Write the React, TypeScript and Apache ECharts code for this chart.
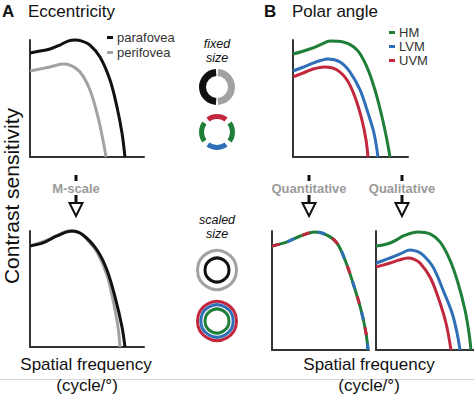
import React, { useEffect, useRef } from "react";
import * as echarts from "echarts";

// Curves: [spatial frequency (0-100 of axis), contrast sensitivity (0-100 of axis)]
const parafoveaFixed = [[0, 88.9], [8.8, 90.6], [17.5, 92.3], [26.3, 95.7], [33.3, 99.1], [39.5, 100], [45.6, 99.1], [52.6, 95.7], [61.4, 85.5], [70.2, 65.8], [76.3, 42.7], [80.7, 20.5], [83.3, 0]];
const perifoveaFixed = [[0, 73.5], [8.8, 75.2], [17.5, 76.9], [23.7, 78.6], [28.9, 79.5], [35.1, 78.6], [43.9, 72.6], [52.6, 57.3], [59.6, 34.2], [64.0, 14.5], [66.7, 0]];
const hmFixed = [[0, 88.0], [8, 90.2], [17.4, 93.2], [25, 96.5], [32.2, 99.1], [43.5, 98.3], [55.7, 91.5], [64.3, 76.9], [71.3, 57.3], [77.4, 34.2], [81.7, 14.5], [84.3, 0]];
const lvmFixed = [[0, 73.5], [8, 76.5], [17.4, 80.3], [24, 82.5], [30.4, 83.8], [40.9, 81.2], [49.6, 72.6], [58.3, 57.3], [65.2, 37.6], [70.4, 20.5], [73.9, 0]];
const uvmFixed = [[0, 68.4], [8, 71.5], [17.4, 75.2], [22.6, 76.4], [27.8, 76.9], [38.3, 74.4], [47.0, 65.8], [53.9, 51.3], [60.0, 31.6], [63.5, 14.5], [65.2, 0]];
const parafoveaScaled = [[0, 87.1], [11.4, 89.7], [23.7, 95.7], [36.8, 100], [46.5, 96.6], [58.8, 83.6], [67.5, 66.4], [74.6, 43.1], [80.7, 17.2], [83.3, 0]];
const perifoveaScaled = [[0, 87.1], [13.2, 91.4], [26.3, 97.4], [33.3, 100], [43.9, 98.3], [52.6, 89.7], [58.8, 81.9], [67.5, 62.1], [72.8, 40.5], [77.2, 17.2], [78.9, 0]];
const quantitativeCurve = [[0, 87.4], [15.5, 90.8], [29.2, 95.8], [44.3, 99.2], [56.7, 96.6], [67.0, 89.9], [75.3, 75.6], [83.5, 56.3], [91.8, 33.6], [96.9, 14.3], [99.0, 0]];
const hmQual = [[0, 87.4], [7, 88.3], [14.3, 89.9], [21, 92.5], [27.6, 95.8], [42.9, 99.2], [55.1, 97.5], [65.3, 90.8], [75.5, 75.6], [83.7, 56.3], [90.8, 33.6], [94.9, 14.3], [96.9, 0]];
const lvmQual = [[0, 73.1], [7, 75.0], [14.3, 77.3], [24, 80.5], [34.7, 84.0], [42, 82.8], [48.0, 79.8], [58.2, 69.7], [68.4, 50.4], [77.6, 31.1], [82.7, 14.3], [85.7, 0]];
const uvmQual = [[0, 69.7], [7, 71.3], [14.3, 73.1], [23, 75.5], [32.7, 77.3], [39, 76.2], [44.9, 73.1], [55.1, 61.3], [63.3, 44.5], [71.4, 22.7], [76.5, 0]];

const eccLegend = ["parafovea", "perifovea"];
const polarLegend = ["HM", "LVM", "UVM"];

const BLACK = "#111111";
const GRAY = "#a2a2a2";
const GREEN = "#1f7f38";
const BLUE = "#2f6fb8";
const RED = "#c1273d";
const FONT = "'Liberation Sans', Arial, sans-serif";

export default function App() {
  const ref = useRef<HTMLDivElement>(null);
  useEffect(() => {
    if (!ref.current) return;
    const chart = echarts.init(ref.current, null, { renderer: "svg" });
    const grids = [
      { left: 30, top: 40, width: 114, height: 117 },
      { left: 293, top: 40, width: 115, height: 117 },
      { left: 30, top: 231, width: 114, height: 116 },
      { left: 272, top: 231, width: 97, height: 119 },
      { left: 376, top: 231, width: 98, height: 119 },
    ];
    const axisLine = { show: true, onZero: false, lineStyle: { color: "#333", width: 2 } };
    const mkAxis = (i: number) => ({
      type: "value", gridIndex: i, min: 0, max: 100,
      axisLine, axisTick: { show: false }, axisLabel: { show: false }, splitLine: { show: false },
    });
    const line = (name: string, data: number[][], g: number, color: string, extra: any = {}) => ({
      type: "line", name, data, xAxisIndex: g, yAxisIndex: g,
      smooth: 0.35, showSymbol: false, clip: false,
      itemStyle: { color },
      lineStyle: { color, width: 3, cap: "butt", join: "round", ...extra },
      emphasis: { disabled: true },
    });
    const text = (t: string, x: number, y: number, size: number, opts: any = {}) => ({
      type: "text", x, y, silent: true,
      style: {
        text: t, fontSize: size, fontFamily: FONT, fill: opts.fill || "#111",
        fontWeight: opts.weight || "normal", fontStyle: opts.style || "normal",
        textAlign: opts.align || "left", align: opts.align || "left",
        textVerticalAlign: "middle", verticalAlign: "middle",
      },
      rotation: opts.rotation || 0,
    });
    const arrow = (x: number, label: string) => [
      { type: "rect", shape: { x: x - 1.5, y: 175, width: 3, height: 6 }, style: { fill: "#111" } },
      text(label, x, 188, 13, { fill: "#9b9b9b", weight: "bold", align: "center" }),
      { type: "rect", shape: { x: x - 1.5, y: 195, width: 3, height: 8 }, style: { fill: "#111" } },
      { type: "polygon", shape: { points: [[x - 6.5, 203], [x + 6.5, 203], [x, 216]] }, style: { fill: "#fff", stroke: "#111", lineWidth: 2, lineJoin: "miter" } },
    ];
    const sector = (cx: number, cy: number, r0: number, r: number, a0: number, a1: number, fill: string) => ({
      type: "sector", shape: { cx, cy, r0, r, startAngle: a0, endAngle: a1, clockwise: true }, style: { fill },
    });
    const arc = (cx: number, cy: number, r: number, a0: number, a1: number, stroke: string, lw: number) => ({
      type: "arc", shape: { cx, cy, r, startAngle: a0, endAngle: a1, clockwise: true }, style: { stroke, lineWidth: lw, fill: null },
    });
    const P = Math.PI;
    const g = 0.06;
    const g2 = 0.16;
    const graphics: any[] = [
      { type: "line", shape: { x1: 0, y1: 379.5, x2: 474, y2: 379.5 }, style: { stroke: "#d4d4d4", lineWidth: 1 } },
      text("A", 2, 11, 17, { weight: "bold" }),
      text("Eccentricity", 28, 11, 17),
      text("B", 264, 11, 17, { weight: "bold" }),
      text("Polar angle", 292, 11, 17),
      text("Contrast sensitivity", 11, 196, 21, { align: "center", rotation: Math.PI / 2 }),
      text("Spatial frequency", 86, 364, 17, { align: "center" }),
      text("(cycle/°)", 87, 385, 17, { align: "center" }),
      text("Spatial frequency", 369, 364, 17, { align: "center" }),
      text("(cycle/°)", 369, 385, 17, { align: "center" }),
      text("fixed", 217, 44, 12.5, { align: "center", style: "italic" }),
      text("size", 217, 58, 12.5, { align: "center", style: "italic" }),
      text("scaled", 217, 220, 12.5, { align: "center", style: "italic" }),
      text("size", 217, 234, 12.5, { align: "center", style: "italic" }),
      sector(217, 87, 11, 18, P / 2 + g, (3 * P) / 2 - g, BLACK),
      sector(217, 87, 11, 18, -P / 2 + g, P / 2 - g, GRAY),
      arc(217, 132, 15.5, (-3 * P) / 4 + g2, -P / 4 - g2, RED, 5),
      arc(217, 132, 15.5, -P / 4 + g2, P / 4 - g2, GREEN, 5),
      arc(217, 132, 15.5, P / 4 + g2, (3 * P) / 4 - g2, BLUE, 5),
      arc(217, 132, 15.5, (3 * P) / 4 + g2, (5 * P) / 4 - g2, GREEN, 5),
      arc(217, 270, 19.5, 0, 2 * P, GRAY, 3),
      arc(217, 270, 12, 0, 2 * P, BLACK, 3),
      arc(217, 321, 19.5, 0, 2 * P, RED, 3),
      arc(217, 321, 16.2, 0, 2 * P, BLUE, 3),
      arc(217, 321, 12, 0, 2 * P, GREEN, 3),
      ...arrow(76, "M-scale"),
      ...arrow(309, "Quantitative"),
      ...arrow(402, "Qualitative"),
    ];
    chart.setOption({
      animation: false,
      backgroundColor: "#fff",
      grid: grids,
      xAxis: grids.map((_, i) => mkAxis(i)),
      yAxis: grids.map((_, i) => mkAxis(i)),
      legend: [
        {
          data: eccLegend, left: 107, top: 31, padding: 0, orient: "vertical", icon: "rect",
          itemWidth: 6, itemHeight: 3, itemGap: 2, selectedMode: false,
          textStyle: { fontSize: 13, color: "#333", fontFamily: FONT, padding: [0, 0, 0, -1] },
        },
        {
          data: polarLegend, left: 389, top: 26, padding: 0, orient: "vertical", icon: "rect",
          itemWidth: 6, itemHeight: 3, itemGap: 1, selectedMode: false,
          textStyle: { fontSize: 13, color: "#333", fontFamily: FONT, padding: [0, 0, 0, -1] },
        },
      ],
      series: [
        line("perifovea", perifoveaFixed, 0, GRAY),
        line("parafovea", parafoveaFixed, 0, BLACK),
        line("HM", hmFixed, 1, GREEN),
        line("LVM", lvmFixed, 1, BLUE),
        line("UVM", uvmFixed, 1, RED),
        line("perifovea", perifoveaScaled, 2, GRAY),
        line("parafovea", parafoveaScaled, 2, BLACK),
        line("quantitative HM", quantitativeCurve, 3, GREEN),
        line("quantitative UVM", quantitativeCurve, 3, RED, { type: [8, 24], dashOffset: 0 }),
        line("quantitative LVM", quantitativeCurve, 3, BLUE, { type: [8, 24], dashOffset: 16 }),
        line("HM", hmQual, 4, GREEN),
        line("LVM", lvmQual, 4, BLUE),
        line("UVM", uvmQual, 4, RED),
      ],
      graphic: graphics,
    });
    return () => chart.dispose();
  }, []);
  return <div ref={ref} style={{ position: "fixed", left: 0, top: 0, width: 474, height: 395 }} />;
}
